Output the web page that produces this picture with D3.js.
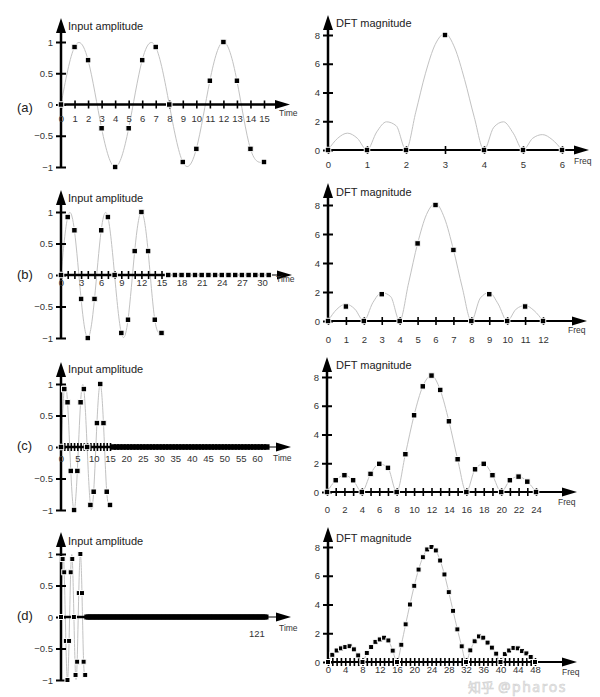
<!DOCTYPE html>
<html>
<head>
<meta charset="utf-8">
<script src="https://cdn.jsdelivr.net/npm/d3@7"></script>
<style>
  body{margin:0;background:#fff;}
  svg{display:block;}
</style>
</head>
<body>
<div id="chart"></div>
<script>
/* Zero-padding figure: a 16-sample sinusoid padded to 32/64/128 points (left)
   and the DFT magnitude bins it gives (right). Grey line = underlying curve. */

var inputSamples=[0,0.92,0.71,-0.38,-1,-0.38,0.71,0.92,0,-0.92,-0.71,0.38,1,0.38,-0.71,-0.92];
var paddedLengths=[16,32,64,128];

var dftA=[0,0,0,8,0,0,0];
var dftB=[0,1.0,0,1.85,0,5.35,8,4.9,0,1.85,0,1.0,0];
var dftC=[0,0.82,1.17,0.82,0,1.26,1.96,1.68,0,2.63,5.34,7.35,8.1,7.1,4.92,2.28,0,1.58,1.96,1.17,0,0.82,1.07,0.72,0];
var dftD=[0,0.5,0.8,0.95,1.04,1.1,0.88,0.46,0,0.63,1.04,1.4,1.57,1.69,1.5,0.79,0,1.2,2.62,4.0,5.3,6.43,7.29,7.83,8.0,7.76,7.06,6.09,4.86,3.56,2.27,1.09,0,0.81,1.44,1.78,1.69,1.35,1.0,0.58,0,0.55,0.8,0.98,0.95,0.76,0.6,0.35,0];
var dftSeries=[dftA,dftB,dftC,dftD];
var dftCurves=[dftC,dftC,dftC,dftD];   // finer grid used for the grey envelope

var panelLabels=["(a)","(b)","(c)","(d)"];
var timeTicks=[[0,1,2,3,4,5,6,7,8,9,10,11,12,13,14,15],[0,3,6,9,12,15,18,21,24,27,30],[0,5,10,15,20,25,30,35,40,45,50,55,60],[121]];
var freqTicks=[[0,1,2,3,4,5,6],[0,1,2,3,4,5,6,7,8,9,10,11,12],[0,2,4,6,8,10,12,14,16,18,20,22,24],[0,4,8,12,16,20,24,28,32,36,40,44,48]];
var ampTicks=[-1,-0.5,0,0.5,1];
var magTicks=[0,2,4,6,8];

// layout of each row (pixel positions)
var leftRows=[
  {tip:18, y1:42, ym1:167, xMax:15, xMaxPx:264, arrow:290, labY:30,    tickDy:17, timeX:279, timeDy:11.5, letterDy:7},
  {tip:190,y1:212,ym1:338, xMax:30, xMaxPx:262, arrow:292, labY:201.5, tickDy:11, timeX:276, timeDy:7,    letterDy:3.5},
  {tip:362,y1:384,ym1:510, xMax:60, xMaxPx:257, arrow:291, labY:373,   tickDy:15, timeX:273, timeDy:14,   letterDy:2.5},
  {tip:532,y1:554,ym1:680, xMax:127,xMaxPx:266, arrow:291, labY:545,   tickDy:20, timeX:279, timeDy:14,   letterDy:3}
];
var rightRows=[
  {ax:328, tip:15, y0:150, y8:35,  xMaxPx:562, arrow:589, labY:27.3,  tickDy:17.5, freqX:574, freqDy:14},
  {ax:328, tip:183,y0:321, y8:205, xMaxPx:543, arrow:587, labY:196.3, tickDy:21.5, freqX:568, freqDy:12},
  {ax:327, tip:357,y0:492, y8:377, xMaxPx:536, arrow:577, labY:369,   tickDy:20.5, freqX:558, freqDy:12.7},
  {ax:328, tip:527,y0:662, y8:547, xMaxPx:535, arrow:577, labY:541.7, tickDy:10.5, freqX:562, freqDy:12.7}
];
var squareL=[5.5,5.5,5.5,5], squareR=[5.5,5.5,5.5,5];

var FONT='"Liberation Sans", Arial, Helvetica, sans-serif';
var GREY="#c2c2c2";

var svg=d3.select("#chart").append("svg").attr("width",600).attr("height",697)
  .style("font-family",FONT);
svg.append("rect").attr("width",600).attr("height",697).attr("fill","#fff");

function upArrow(g,x,tip){
  g.append("path").attr("d","M"+x+","+tip+"L"+(x+5)+","+(tip+15)+"L"+(x-5)+","+(tip+15)+"Z").attr("fill","#000");
}
function rightArrow(g,tip,y){
  g.append("path").attr("d","M"+tip+","+y+"L"+(tip-15)+","+(y-4.5)+"L"+(tip-15)+","+(y+4.5)+"Z").attr("fill","#000");
}
function fmtAmp(d){ return d===0?"0":(d<0?"\u2212":"")+Math.abs(d); }
function fmtInt(d){ return String(d); }
function styleAxis(sel){
  sel.attr("font-family",FONT).attr("font-size",9.5);
  sel.select(".domain").remove();
  sel.selectAll(".tick text").attr("fill","#333");
  sel.selectAll(".tick line").attr("stroke","#000");
}
// cross-shaped ticks through the axis line
function crossTicksX(g,x,y0,vals){
  var a=g.append("g").attr("transform","translate(0,"+y0+")").call(d3.axisBottom(x).tickValues(vals).tickSize(4).tickFormat(""));
  styleAxis(a);
  a.selectAll(".tick line").attr("y1",-4).attr("y2",4).attr("stroke-width",1.6);
}

function drawLeft(i){
  var r=leftRows[i], g=svg.append("g");
  var x=d3.scaleLinear().domain([0,r.xMax]).range([61,r.xMaxPx]);
  var y=d3.scaleLinear().domain([-1,1]).range([r.ym1,r.y1]);
  var y0=y(0);
  var samples=inputSamples.concat(d3.range(paddedLengths[i]-inputSamples.length).map(function(){return 0;}));

  g.append("path").datum(inputSamples)
    .attr("d",d3.line().x(function(d,k){return x(k);}).y(function(d){return y(d);}).curve(d3.curveNatural))
    .attr("fill","none").attr("stroke",GREY).attr("stroke-width",1);

  // vertical axis
  g.append("line").attr("x1",61).attr("x2",61).attr("y1",y(-1)).attr("y2",r.tip+12).attr("stroke","#000").attr("stroke-width",2.5);
  upArrow(g,61,r.tip);
  var ya=g.append("g").attr("transform","translate(61,0)").call(d3.axisLeft(y).tickValues(ampTicks).tickSize(5).tickFormat(fmtAmp));
  styleAxis(ya);
  ya.selectAll(".tick line").attr("x1",5).attr("x2",-5).attr("stroke-width",2);
  ya.selectAll(".tick text").attr("x",-8);

  // horizontal axis: heavy under the signal, light under the padding
  var thickEnd=i===0?r.arrow-12:x(15.5);
  g.append("line").attr("x1",x(0)).attr("x2",thickEnd).attr("y1",y0).attr("y2",y0).attr("stroke","#000").attr("stroke-width",2.5);
  if(i>0) g.append("line").attr("x1",thickEnd).attr("x2",r.arrow-12).attr("y1",y0).attr("y2",y0).attr("stroke","#000").attr("stroke-width",1.1);
  rightArrow(g,r.arrow,y0);
  if(i<3) crossTicksX(g,x,y0,d3.range(inputSamples.length));

  var xa=g.append("g").attr("transform","translate(0,"+y0+")").call(d3.axisBottom(x).tickValues(timeTicks[i]).tickSize(0).tickFormat(fmtInt));
  styleAxis(xa);
  xa.selectAll(".tick text").attr("y",r.tickDy).attr("dy",0);

  var s=squareL[i];
  g.selectAll("rect.smp").data(samples).join("rect").attr("class","smp")
    .attr("x",function(d,k){return x(k)-s/2;}).attr("y",function(d){return y(d)-s/2;})
    .attr("width",s).attr("height",s).attr("fill","#000")
    .attr("stroke",function(d,k){return (i<2||k<16)?"#fff":"none";}).attr("stroke-width",1);

  g.append("text").attr("x",68).attr("y",r.labY).attr("font-size",11).attr("fill","#222").text("Input amplitude");
  g.append("text").attr("x",r.timeX).attr("y",y0+r.timeDy).attr("font-size",8.5).attr("fill","#333").text("Time");
  g.append("text").attr("x",17).attr("y",y0+r.letterDy).attr("font-size",13).attr("fill","#222").text(panelLabels[i]);
}

function drawRight(i){
  var r=rightRows[i], g=svg.append("g");
  var bins=dftSeries[i], n=bins.length, env=dftCurves[i], m=env.length;
  var x=d3.scaleLinear().domain([0,n-1]).range([r.ax,r.xMaxPx]);
  var y=d3.scaleLinear().domain([0,8]).range([r.y0,r.y8]);
  var y0=y(0);

  g.append("path").datum(env)
    .attr("d",d3.line().x(function(d,j){return x(j*(n-1)/(m-1));}).y(function(d){return y(d);}).curve(d3.curveMonotoneX))
    .attr("fill","none").attr("stroke",GREY).attr("stroke-width",1);

  g.append("line").attr("x1",r.ax).attr("x2",r.ax).attr("y1",y0).attr("y2",r.tip+12).attr("stroke","#000").attr("stroke-width",2.5);
  upArrow(g,r.ax,r.tip);
  var ya=g.append("g").attr("transform","translate("+r.ax+",0)").call(d3.axisLeft(y).tickValues(magTicks).tickSize(5).tickFormat(fmtInt));
  styleAxis(ya);
  ya.selectAll(".tick line").attr("x1",5).attr("x2",-5).attr("stroke-width",2);
  ya.selectAll(".tick text").attr("x",-8);

  g.append("line").attr("x1",x(0)).attr("x2",r.arrow-12).attr("y1",y0).attr("y2",y0).attr("stroke","#000").attr("stroke-width",2.2);
  rightArrow(g,r.arrow,y0);
  crossTicksX(g,x,y0,d3.range(n));

  var xa=g.append("g").attr("transform","translate(0,"+y0+")").call(d3.axisBottom(x).tickValues(freqTicks[i]).tickSize(0).tickFormat(fmtInt));
  styleAxis(xa);
  xa.selectAll(".tick text").attr("y",r.tickDy).attr("dy",0);

  var s=squareR[i];
  g.selectAll("rect.bin").data(bins).join("rect").attr("class","bin")
    .attr("x",function(d,k){return x(k)-s/2;}).attr("y",function(d){return y(d)-s/2;})
    .attr("width",s).attr("height",s).attr("fill","#000").attr("stroke","#fff").attr("stroke-width",1);

  g.append("text").attr("x",336).attr("y",r.labY).attr("font-size",11).attr("fill","#222").text("DFT magnitude");
  g.append("text").attr("x",r.freqX).attr("y",y0+r.freqDy).attr("font-size",8.5).attr("fill","#333").text("Freq");
}

for(var i=0;i<4;i++){ drawLeft(i); drawRight(i); }

// watermark of the source image, kept just under the bottom tick labels
var wm=svg.append("g").attr("opacity",0.8);
wm.append("text").attr("x",468).attr("y",692).attr("font-size",13)
  .attr("font-family",'"Noto Sans CJK SC", sans-serif').attr("fill","#e2e2e2").attr("stroke","#c4c4c4").attr("stroke-width",0.5).text("知乎");
wm.append("text").attr("x",498).attr("y",692).attr("font-size",14).attr("letter-spacing",1.5)
  .attr("font-family",'"Noto Sans", sans-serif').attr("fill","#eeeeee").attr("stroke","#c4c4c4").attr("stroke-width",0.6).text("@pharos");
</script>
</body>
</html>
